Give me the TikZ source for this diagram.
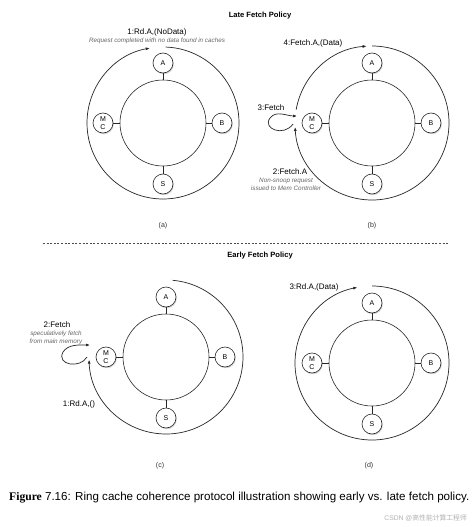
\documentclass[tikz,border=0pt]{standalone}
\usepackage{fontspec}
\setmainfont{Liberation Sans}
\newfontfamily\capserif{Liberation Serif}
\newfontfamily\cjkfont{Noto Sans CJK SC}
\usetikzlibrary{arrows.meta,shadows,calc}

\begin{document}
\begin{tikzpicture}[
    x=1pt, y=1pt,
    rcRing/.style={circle, draw=black!85, line width=0.6pt, minimum size=86pt, inner sep=0pt},
    rcNode/.style={circle, draw=black!85, fill=white, line width=0.6pt, minimum size=20pt, inner sep=0pt,
        font=\fontsize{7}{8.5}\selectfont, drop shadow={shadow xshift=0.8pt, shadow yshift=-1.2pt, opacity=0.35}},
    rcStub/.style={line width=0.6pt, draw=black!85},
    rcMsg/.style={line width=0.7pt, draw=black!85, -{Latex[length=4pt,width=3pt]}},
    rcLabel/.style={font=\fontsize{8}{9}\selectfont, inner sep=0pt},
    rcNote/.style={font=\fontsize{6.3}{8}\selectfont\itshape, text=black!60, inner sep=0pt},
    rcTitle/.style={font=\fontsize{7.6}{8}\selectfont\bfseries, inner sep=0pt},
    rcSub/.style={font=\fontsize{7}{8}\selectfont, text=black!80, inner sep=0pt}
]
\useasboundingbox[fill=white] (0,0) rectangle (474,-527);

% the four rings with their caches
\foreach \p/\cx/\cy in {a/163/-123, b/372/-123, c/166/-357, d/372/-363}{
    \node[rcRing] (\p-ring) at (\cx,\cy) {};
    \node[rcNode] (\p-A) at (\cx,\cy+60) {A};
    \node[rcNode] (\p-B) at (\cx+59,\cy) {B};
    \node[rcNode] (\p-S) at (\cx,\cy-61) {S};
    \node[rcNode, align=center] (\p-MC) at (\cx-60,\cy) {M\\C};
    \draw[rcStub] (\p-A) -- (\p-ring.north);
    \draw[rcStub] (\p-B) -- (\p-ring.east);
    \draw[rcStub] (\p-S) -- (\p-ring.south);
    \draw[rcStub] (\p-MC) -- (\p-ring.west);
}

% late fetch
\node[rcTitle] (lateTitle) at (260,-16) {Late Fetch Policy};

\coordinate (a-s) at ($(a-ring.center)+(88:76)$);
\draw[rcMsg] (a-s) arc (88:-260:76);
\node[rcLabel] (a-msg) at (157,-32) {1:Rd.A,(NoData)};
\node[rcNote] (a-note) at (157,-40.5) {Request completed with no data found in caches};
\node[rcSub] (a-cap) at (163,-226) {(a)};

\coordinate (b-s1) at ($(b-ring.center)+(90:77)$);
\draw[rcMsg] (b-s1) arc (90:-177:77);
\coordinate (b-s2) at ($(b-ring.center)+(170:77)$);
\draw[rcMsg] (b-s2) arc (170:94:77);
\coordinate (b-lp1) at (293,-124);
\coordinate (b-lp2) at (297,-116);
\draw[rcMsg] (b-lp1) .. controls (284,-137) and (262,-129) .. (270,-118)
    .. controls (276,-110) and (287,-116) .. (b-lp2);
\node[rcLabel] (b-msg4) at (313,-43) {4:Fetch.A,(Data)};
\node[rcLabel] (b-msg3) at (271,-108) {3:Fetch};
\node[rcLabel] (b-msg2) at (290,-172) {2:Fetch.A};
\node[rcNote, align=center] (b-note) at (286,-184.5) {Non-snoop request\\issued to Mem Controller};
\node[rcSub] (b-cap) at (372,-226) {(b)};

\draw[black!70, line width=0.5pt, dash pattern=on 2pt off 1.6pt] (43,-243) coordinate (sepL) -- (448,-243) coordinate (sepR);

% early fetch
\node[rcTitle] (earlyTitle) at (260,-256) {Early Fetch Policy};

\coordinate (c-s) at ($(c-ring.center)+(85:77)$);
\draw[rcMsg] (c-s) arc (85:-178:77);
\coordinate (c-lp1) at (87,-357);
\coordinate (c-lp2) at (90,-345);
\draw[rcMsg] (c-lp1) .. controls (80,-369) and (56,-365) .. (63,-352)
    .. controls (68,-344) and (80,-345) .. (c-lp2);
\node[rcLabel] (c-msg2) at (57,-325) {2:Fetch};
\node[rcNote, align=center] (c-note) at (56,-337.5) {speculatively fetch\\from main memory};
\node[rcLabel] (c-msg1) at (79,-404) {1:Rd.A,()};
\node[rcSub] (c-cap) at (160,-466) {(c)};

\coordinate (d-s) at ($(d-ring.center)+(90:77)$);
\draw[rcMsg] (d-s) arc (90:-259:77);
\node[rcLabel] (d-msg3) at (314,-287.5) {3:Rd.A,(Data)};
\node[rcSub] (d-cap) at (369,-466) {(d)};

% caption
\node[anchor=west, inner sep=0pt, font=\fontsize{11.6}{13}\selectfont] (caption) at (9,-498)
    {{\capserif\bfseries Figure} 7.16: Ring cache coherence protocol illustration showing early vs. late fetch policy.};
\node[anchor=east, inner sep=0pt, text=black!30, font=\fontsize{6.8}{8}\selectfont] (mark) at (467,-518)
    {CSDN @{\cjkfont 高性能计算工程师}};
\end{tikzpicture}
\end{document}
